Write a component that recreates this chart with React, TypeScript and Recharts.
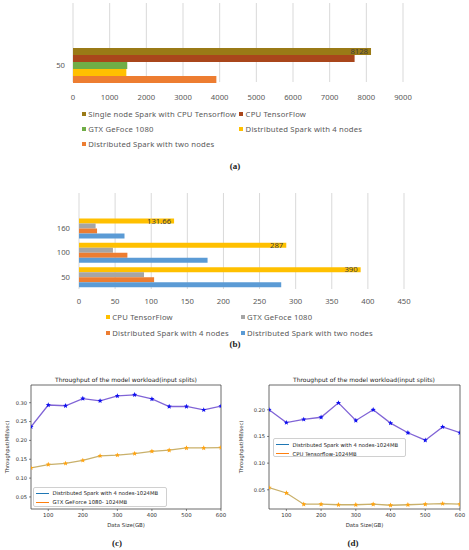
import React from 'react';
import {
  BarChart, Bar, XAxis, YAxis, CartesianGrid, LabelList,
  LineChart, Line, ReferenceArea,
} from 'recharts';

// ---------- Panel (a) ----------
const aCategories = ['50'];
const aSingleNode = [8128];
const aCpuTf = [7680];
const aGtx = [1480];
const aDist4 = [1455];
const aDist2 = [3910];
const aTicks = [0, 1000, 2000, 3000, 4000, 5000, 6000, 7000, 8000, 9000];
const aNames = [
  'Single node Spark with CPU Tensorflow',
  'CPU TensorFlow',
  'GTX GeFoce 1080',
  'Distributed Spark with 4 nodes',
  'Distributed Spark with two nodes',
];
const aColors = ['#9a7a16', '#a9461b', '#70ad47', '#ffc000', '#ed7d31'];

// ---------- Panel (b) ----------
const bCategories = ['160', '100', '50'];
const bCpuTf = [131.66, 287, 390];
const bGtx = [23, 47, 90];
const bDist4 = [25, 67, 104];
const bDist2 = [63, 178, 280];
const bTicks = [0, 50, 100, 150, 200, 250, 300, 350, 400, 450];
const bNames = [
  'CPU TensorFlow',
  'GTX GeFoce 1080',
  'Distributed Spark with 4 nodes',
  'Distributed Spark with two nodes',
];
const bColors = ['#ffc000', '#a5a5a5', '#ed7d31', '#5b9bd5'];

// ---------- Panels (c) and (d) ----------
const dataSizes = [50, 100, 150, 200, 250, 300, 350, 400, 450, 500, 550, 600];
const cDist4 = [0.236, 0.294, 0.292, 0.311, 0.305, 0.318, 0.321, 0.310, 0.290, 0.290, 0.281, 0.291];
const cGtx = [0.127, 0.136, 0.139, 0.147, 0.159, 0.161, 0.165, 0.171, 0.174, 0.180, 0.180, 0.181];
const dDist4 = [0.200, 0.176, 0.182, 0.186, 0.213, 0.180, 0.200, 0.175, 0.157, 0.143, 0.168, 0.157];
const dCpu = [0.054, 0.044, 0.023, 0.023, 0.022, 0.022, 0.023, 0.021, 0.022, 0.023, 0.024, 0.023];
const lineXTicks = [100, 200, 300, 400, 500, 600];
const cYTicks = [0.05, 0.10, 0.15, 0.20, 0.25, 0.30];
const dYTicks = [0.05, 0.10, 0.15, 0.20];
const cYDomain = [0.018, 0.347];
const dYDomain = [0.014, 0.2465];
const xDomain = [50, 600];
const lineTitle = 'Throughput of the model workload(input splits)';
const cLegend = ['Distributed Spark with 4 nodes-1024MB', 'GTX GeForce 1080- 1024MB'];
const dLegend = ['Distributed Spark with 4 nodes-1024MB', 'CPU Tensorflow-1024MB'];
const legendLineColors = ['#1f77b4', '#ff7f0e'];

const aData = aCategories.map((cat, i) => ({
  cat, single: aSingleNode[i], cpu: aCpuTf[i], gtx: aGtx[i], dist4: aDist4[i], dist2: aDist2[i],
}));
const bData = bCategories.map((cat, i) => ({
  cat, cpu: bCpuTf[i], gtx: bGtx[i], dist4: bDist4[i], dist2: bDist2[i],
}));
const cData = dataSizes.map((x, i) => ({ x, s1: cDist4[i], s2: cGtx[i] }));
const dData = dataSizes.map((x, i) => ({ x, s1: dDist4[i], s2: dCpu[i] }));

const excelFont = "'Noto Sans', 'Open Sans', sans-serif";
const mplFont = "'DejaVu Sans', sans-serif";
const excelTick = { fontSize: 7.7, fill: '#595959', fontFamily: excelFont };

const renderStar = (p: any, color: string) => {
  const { cx, cy, index } = p;
  if (cx == null || cy == null) return <g key={index} />;
  const pts: string[] = [];
  for (let i = 0; i < 10; i++) {
    const r = i % 2 === 0 ? 2.7 : 1.2;
    const a = -Math.PI / 2 + (i * Math.PI) / 5;
    pts.push(`${cx + r * Math.cos(a)},${cy + r * Math.sin(a)}`);
  }
  return <polygon key={index} points={pts.join(' ')} fill={color} />;
};

const Caption = ({ text, x, y }: { text: string; x: number; y: number }) => (
  <div style={{
    position: 'absolute', left: x - 20, top: y - 7, width: 40, textAlign: 'center',
    fontFamily: "'Liberation Serif', 'Times New Roman', serif", fontWeight: 'bold', fontSize: 9, lineHeight: '14px', color: '#222',
  }}>{text}</div>
);

const BarLegend = ({ names, colors, left, top, colW, rowH }: any) => (
  <div style={{
    position: 'absolute', left, top, display: 'grid', gridTemplateColumns: `${colW}px ${colW}px`,
    gridAutoRows: `${rowH}px`, fontFamily: excelFont, fontSize: 7.7, color: '#595959', letterSpacing: 0.18,
  }}>
    {names.map((n: string, i: number) => (
      <div key={n + i} style={{ display: 'flex', alignItems: 'center', whiteSpace: 'nowrap' }}>
        <span style={{ width: 4, height: 4, background: colors[i], marginRight: 2.3, flex: 'none' }} />
        <span>{n}</span>
      </div>
    ))}
  </div>
);

const LineLegend = ({ names, left, top, width, height }: any) => (
  <div style={{
    position: 'absolute', left, top, width, height, boxSizing: 'border-box',
    border: '0.7px solid #d0d0d0', borderRadius: 2, background: 'rgba(255,255,255,0.85)',
    fontFamily: mplFont, fontSize: 5.3, color: '#222', paddingTop: 1.2,
  }}>
    {names.map((n: string, i: number) => (
      <div key={n} style={{ display: 'flex', alignItems: 'center', height: 8.9, whiteSpace: 'nowrap' }}>
        <span style={{ width: 13.5, height: 1.2, background: legendLineColors[i], marginLeft: 1.5, marginRight: 3.5, flex: 'none' }} />
        <span>{n}</span>
      </div>
    ))}
  </div>
);

const LinePanel = ({ data, yDomain, yTicks, yWidth, marginRight }: any) => (
  <LineChart width={235} height={175} data={data} margin={{ top: 25, right: marginRight, bottom: 0, left: 0 }}>
    <XAxis
      dataKey="x" type="number" domain={xDomain} ticks={lineXTicks} allowDataOverflow
      height={26} tickSize={2} tickMargin={2.5} axisLine={false}
      tickLine={{ stroke: '#333', strokeWidth: 0.6 }}
      tick={{ fontSize: 5.4, fill: '#333', fontFamily: mplFont }}
      label={{ value: 'Data Size(GB)', position: 'insideBottom', offset: 8, fontSize: 5.4, fill: '#333', fontFamily: mplFont }}
    />
    <YAxis
      type="number" domain={yDomain} ticks={yTicks} allowDataOverflow width={yWidth}
      tickSize={2} tickMargin={1.8} axisLine={false}
      tickLine={{ stroke: '#333', strokeWidth: 0.6 }}
      tick={{ fontSize: 5.2, fill: '#333', fontFamily: mplFont }}
      tickFormatter={(v: number) => v.toFixed(2)}
      label={{ value: 'Throughput(MB/sec)', angle: -90, position: 'insideLeft', offset: 7, fontSize: 5.2, fill: '#333', fontFamily: mplFont, style: { textAnchor: 'middle' } }}
    />
    <ReferenceArea x1={xDomain[0]} x2={xDomain[1]} y1={yDomain[0]} y2={yDomain[1]} fill="none" stroke="#444" strokeWidth={0.8} ifOverflow="visible" />
    <Line type="linear" dataKey="s1" stroke="#8064d6" strokeWidth={1.3} isAnimationActive={false}
      dot={(p: any) => renderStar(p, '#1010f0')} activeDot={false} />
    <Line type="linear" dataKey="s2" stroke="#c9b06a" strokeWidth={1.3} isAnimationActive={false}
      dot={(p: any) => renderStar(p, '#ffa310')} activeDot={false} />
  </LineChart>
);

export default function App() {
  return (
    <div style={{ position: 'absolute', left: 0, top: 0, width: 469, height: 550, background: '#fff', overflow: 'hidden' }}>
      {/* (a) */}
      <div style={{ position: 'absolute', left: 0, top: 0 }}>
        <BarChart width={469} height={110} data={aData} layout="vertical"
          margin={{ top: 3, right: 66, bottom: 0, left: 0 }} barCategoryGap={0} barGap={0}>
          <CartesianGrid horizontal={false} stroke="#d9d9d9" />
          <XAxis type="number" domain={[0, 9000]} ticks={aTicks} interval={0} axisLine={false} tickLine={false}
            height={28} tickMargin={7} tick={excelTick} />
          <YAxis type="category" dataKey="cat" width={73} axisLine={false} tickLine={false}
            padding={{ top: 45, bottom: 0 }} tick={excelTick} />
          <Bar dataKey="single" fill={aColors[0]} isAnimationActive={false}>
            <LabelList dataKey="single" position="insideRight" offset={3} fill="#404040" fontSize={7.7} fontFamily={excelFont} />
          </Bar>
          <Bar dataKey="cpu" fill={aColors[1]} isAnimationActive={false} />
          <Bar dataKey="gtx" fill={aColors[2]} isAnimationActive={false} />
          <Bar dataKey="dist4" fill={aColors[3]} isAnimationActive={false} />
          <Bar dataKey="dist2" fill={aColors[4]} isAnimationActive={false} />
        </BarChart>
      </div>
      <BarLegend names={aNames} colors={aColors} left={82} top={106.9} colW={157.3} rowH={14.8} />
      <Caption text="(a)" x={235} y={166} />

      {/* (b) */}
      <div style={{ position: 'absolute', left: 0, top: 170 }}>
        <BarChart width={469} height={140} data={bData} layout="vertical"
          margin={{ top: 23, right: 65, bottom: 0, left: 0 }} barCategoryGap={2.5} barGap={0}>
          <CartesianGrid horizontal={false} stroke="#d9d9d9" />
          <XAxis type="number" domain={[0, 450]} ticks={bTicks} interval={0} axisLine={false} tickLine={false}
            height={21} tickMargin={3.3} tick={excelTick} />
          <YAxis type="category" dataKey="cat" width={79} axisLine={false} tickLine={false}
            tickMargin={3} padding={{ top: 23, bottom: 0 }} tick={excelTick} />
          <Bar dataKey="cpu" fill={bColors[0]} isAnimationActive={false}>
            <LabelList dataKey="cpu" position="insideRight" offset={3} fill="#404040" fontSize={7.7} fontFamily={excelFont} />
          </Bar>
          <Bar dataKey="gtx" fill={bColors[1]} isAnimationActive={false} />
          <Bar dataKey="dist4" fill={bColors[2]} isAnimationActive={false} />
          <Bar dataKey="dist2" fill={bColors[3]} isAnimationActive={false} />
        </BarChart>
      </div>
      <BarLegend names={bNames} colors={bColors} left={106} top={308.7} colW={134.7} rowH={16} />
      <Caption text="(b)" x={235} y={344.3} />

      {/* (c) */}
      <div style={{ position: 'absolute', left: 0, top: 360 }}>
        <LinePanel data={cData} yDomain={cYDomain} yTicks={cYTicks} yWidth={31} marginRight={14} />
      </div>
      <div style={{ position: 'absolute', left: 26, top: 376, width: 200, textAlign: 'center', fontFamily: mplFont, fontSize: 6, color: '#222', lineHeight: '8px', whiteSpace: 'nowrap' }}>{lineTitle}</div>
      <LineLegend names={cLegend} left={33} top={486.7} width={134} height={20} />
      <Caption text="(c)" x={117} y={542.7} />

      {/* (d) */}
      <div style={{ position: 'absolute', left: 234, top: 360 }}>
        <LinePanel data={dData} yDomain={dYDomain} yTicks={dYTicks} yWidth={35} marginRight={9} />
      </div>
      <div style={{ position: 'absolute', left: 264, top: 376, width: 200, textAlign: 'center', fontFamily: mplFont, fontSize: 6, color: '#222', lineHeight: '8px', whiteSpace: 'nowrap' }}>{lineTitle}</div>
      <LineLegend names={dLegend} left={273} top={438} width={133} height={19} />
      <Caption text="(d)" x={353} y={542.7} />
    </div>
  );
}
